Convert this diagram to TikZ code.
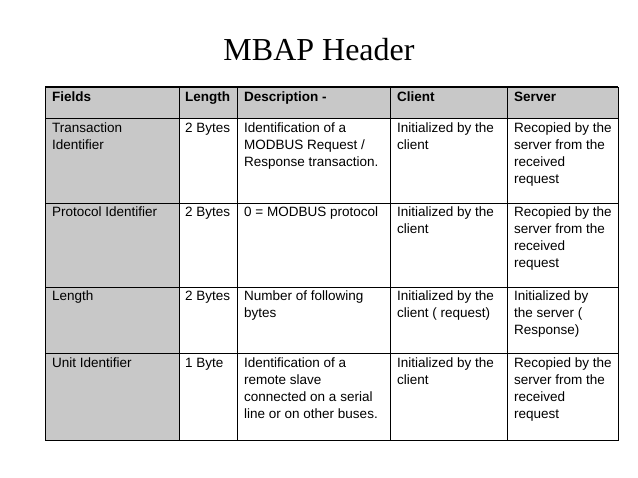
\documentclass[tikz,border=0pt]{standalone}
\usepackage{fontspec}
\setmainfont{Liberation Sans}
\newfontfamily\titlefont{Liberation Serif}
\definecolor{hdr}{RGB}{200,200,200}
\begin{document}
\begin{tikzpicture}[x=1pt,y=-1pt,
  cell/.style={anchor=north west,inner sep=0pt,align=left,font=\fontsize{13.5}{17}\selectfont},
  hcell/.style={cell,font=\fontsize{13.5}{17}\selectfont\bfseries}]
\useasboundingbox (0,0) rectangle (638,478);
\node[font=\titlefont\fontsize{32}{36}\selectfont] (title) at (319,50) {MBAP Header};
\fill[hdr] (45,87) rectangle (618,118);
\fill[hdr] (45,118) rectangle (179,440);
\draw[line width=0.6pt] (45,87) rectangle (618,440);
\draw[line width=1.4pt] (45,87) -- (618,87);
\foreach \x in {179,237,390,507} \draw[line width=0.6pt] (\x,87) -- (\x,440);
\foreach \y in {118,203,287,353} \draw[line width=0.6pt] (45,\y) -- (618,\y);
% header
\node[hcell] (h1) at (52,92) {Fields};
\node[hcell] (h2) at (185,92) {Length};
\node[hcell] (h3) at (244,92) {Description -};
\node[hcell] (h4) at (397,92) {Client};
\node[hcell] (h5) at (514,92) {Server};
% row 1
\node[cell] (a1) at (52,123) {Transaction\\Identifier};
\node[cell] (a2) at (185,123) {2 Bytes};
\node[cell] (a3) at (244,123) {Identification of a\\MODBUS Request /\\Response transaction.};
\node[cell] (a4) at (397,123) {Initialized by the\\client};
\node[cell] (a5) at (514,123) {Recopied by the\\server from the\\received\\request};
% row 2
\node[cell] (b1) at (52,207) {Protocol Identifier};
\node[cell] (b2) at (185,207) {2 Bytes};
\node[cell] (b3) at (244,207) {0 = MODBUS protocol};
\node[cell] (b4) at (397,207) {Initialized by the\\client};
\node[cell] (b5) at (514,207) {Recopied by the\\server from the\\received\\request};
% row 3
\node[cell] (c1) at (52,291) {Length};
\node[cell] (c2) at (185,291) {2 Bytes};
\node[cell] (c3) at (244,291) {Number of following\\bytes};
\node[cell] (c4) at (397,291) {Initialized by the\\client ( request)};
\node[cell] (c5) at (514,291) {Initialized by\\the server (\\Response)};
% row 4
\node[cell] (d1) at (52,358) {Unit Identifier};
\node[cell] (d2) at (185,358) {1 Byte};
\node[cell] (d3) at (244,358) {Identification of a\\remote slave\\connected on a serial\\line or on other buses.};
\node[cell] (d4) at (397,358) {Initialized by the\\client};
\node[cell] (d5) at (514,358) {Recopied by the\\server from the\\received\\request};
\end{tikzpicture}
\end{document}
